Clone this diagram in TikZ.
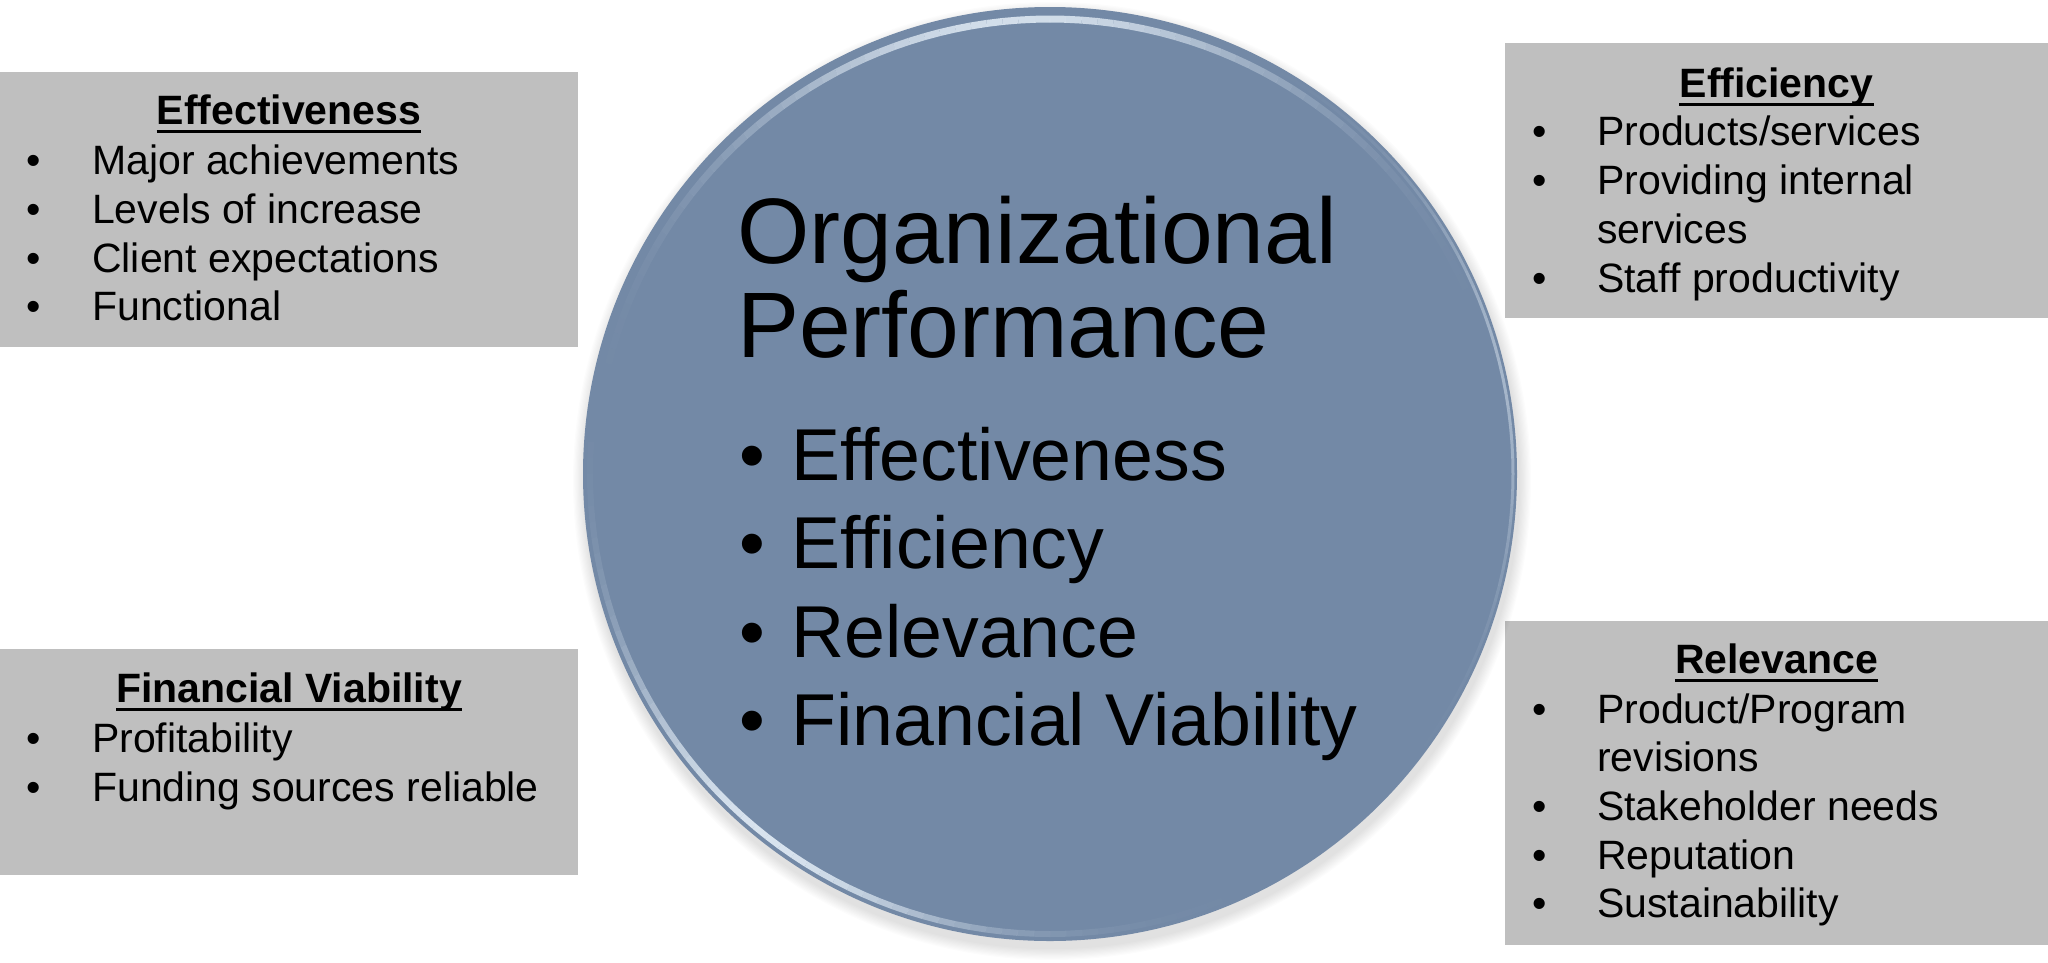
\documentclass[tikz,border=0pt]{standalone}
\usepackage{fontspec}
\setmainfont{Liberation Sans}
\usetikzlibrary{calc}
\definecolor{boxgray}{RGB}{191,191,191}
\definecolor{orbblue}{RGB}{115,137,166}
\definecolor{hilite}{RGB}{228,238,247}
\begin{document}
\begin{tikzpicture}[x=1pt,y=-1pt,
  panel/.style={fill=boxgray, draw=none, inner sep=0pt, anchor=north west},
  btitle/.style={font=\fontsize{41}{49}\selectfont\bfseries, inner sep=0pt, anchor=base},
  bitem/.style={font=\fontsize{41}{49}\selectfont, inner sep=0pt, anchor=base west},
  bdot/.style={font=\fontsize{41}{49}\selectfont, inner sep=0pt, anchor=base},
  uline/.style={line width=3pt},
  bigtitle/.style={font=\fontsize{93}{95}\selectfont, inner sep=0pt, anchor=base west},
  bigitem/.style={font=\fontsize{73.5}{88}\selectfont, inner sep=0pt, anchor=base west},
  bigdot/.style={font=\fontsize{73.5}{88}\selectfont, inner sep=0pt, anchor=base}
]
\useasboundingbox (0,0) rectangle (2048,962);
\fill[white] (0,0) rectangle (2048,962);

% ---------- side panels ----------
\node[panel, minimum width=578pt, minimum height=275pt] (effbox) at (0,72) {};
\node[panel, minimum width=543pt, minimum height=275pt] (efcbox) at (1505,43) {};
\node[panel, minimum width=578pt, minimum height=226pt] (finbox) at (0,649) {};
\node[panel, minimum width=543pt, minimum height=324pt] (relbox) at (1505,621) {};

% Effectiveness
\node[btitle] (efft) at (289,124) {Effectiveness};
\draw[uline] ($(efft.base west)+(0,7.5)$) -- ($(efft.base east)+(0,7.5)$);
\node[bdot] (effd1) at (34,174) {•};
\node[bitem] (effi1) at (92,174) {Major achievements};
\node[bdot] (effd2) at (34,223) {•};
\node[bitem] (effi2) at (92,223) {Levels of increase};
\node[bdot] (effd3) at (34,272) {•};
\node[bitem] (effi3) at (92,272) {Client expectations};
\node[bdot] (effd4) at (34,320) {•};
\node[bitem] (effi4) at (92,320) {Functional};

% Efficiency
\node[btitle] (efct) at (1776.5,97) {Efficiency};
\draw[uline] ($(efct.base west)+(0,7.5)$) -- ($(efct.base east)+(0,7.5)$);
\node[bdot] (efcd1) at (1540,145) {•};
\node[bitem] (efci1) at (1597,145) {Products/services};
\node[bdot] (efcd2) at (1540,194) {•};
\node[bitem] (efci2) at (1597,194) {Providing internal};
\node[bitem] (efci2b) at (1597,243) {services};
\node[bdot] (efcd3) at (1540,292) {•};
\node[bitem] (efci3) at (1597,292) {Staff productivity};

% Financial Viability
\node[btitle] (fint) at (289,702) {Financial Viability};
\draw[uline] ($(fint.base west)+(0,7.5)$) -- ($(fint.base east)+(0,7.5)$);
\node[bdot] (find1) at (34,752) {•};
\node[bitem] (fini1) at (92,752) {Profitability};
\node[bdot] (find2) at (34,801) {•};
\node[bitem] (fini2) at (92,801) {Funding sources reliable};

% Relevance
\node[btitle] (relt) at (1776.5,673) {Relevance};
\draw[uline] ($(relt.base west)+(0,7.5)$) -- ($(relt.base east)+(0,7.5)$);
\node[bdot] (reld1) at (1540,723) {•};
\node[bitem] (reli1) at (1597,723) {Product/Program};
\node[bitem] (reli1b) at (1597,771) {revisions};
\node[bdot] (reld2) at (1540,820) {•};
\node[bitem] (reli2) at (1597,820) {Stakeholder needs};
\node[bdot] (reld3) at (1540,869) {•};
\node[bitem] (reli3) at (1597,869) {Reputation};
\node[bdot] (reld4) at (1540,917) {•};
\node[bitem] (reli4) at (1597,917) {Sustainability};

% ---------- central disc ----------
\coordinate (oc) at (1050,474);
\foreach \k in {1,...,10} {
  \fill[black, opacity=0.013] ($(oc)+(2,7)$) circle[radius=467pt+\k*1.2pt];
}
\node[circle, fill=orbblue, draw=none, minimum size=934pt, inner sep=0pt] (orb) at (oc) {};

% top highlight
\foreach \a in {16,18,...,170} {
  \pgfmathsetmacro{\op}{0.85*exp(-((\a+1-95)/34)*((\a+1-95)/34))}
  \draw[hilite, line width=7pt, opacity=\op] ($(orb.center)+(\a:455pt)$) -- ($(orb.center)+(\a+2:455pt)$);
}
% lower-left highlight
\foreach \a in {176,178,...,290} {
  \pgfmathsetmacro{\op}{0.9*exp(-((\a+1-232)/28)*((\a+1-232)/28))}
  \draw[hilite, line width=6pt, opacity=\op] ($(orb.center)+(\a:460pt)$) -- ($(orb.center)+(\a+2:460pt)$);
}
% right thin highlight
\foreach \a in {-40,-38,...,60} {
  \pgfmathsetmacro{\op}{0.45*exp(-((\a+1-12)/25)*((\a+1-12)/25))}
  \draw[hilite, line width=3pt, opacity=\op] ($(orb.center)+(\a:463pt)$) -- ($(orb.center)+(\a+2:463pt)$);
}

% ---------- central text ----------
\node[bigtitle] (org) at (737,263) {Organizational};
\node[bigtitle] (perf) at (737,357) {Performance};
\node[bigdot] (d1) at (752,480) {•};
\node[bigitem] (i1) at (791,480) {Effectiveness};
\node[bigdot] (d2) at (752,568) {•};
\node[bigitem] (i2) at (791,568) {Efficiency};
\node[bigdot] (d3) at (752,657) {•};
\node[bigitem] (i3) at (791,657) {Relevance};
\node[bigdot] (d4) at (752,745) {•};
\node[bigitem] (i4) at (791,745) {Financial Viability};
\end{tikzpicture}
\end{document}
